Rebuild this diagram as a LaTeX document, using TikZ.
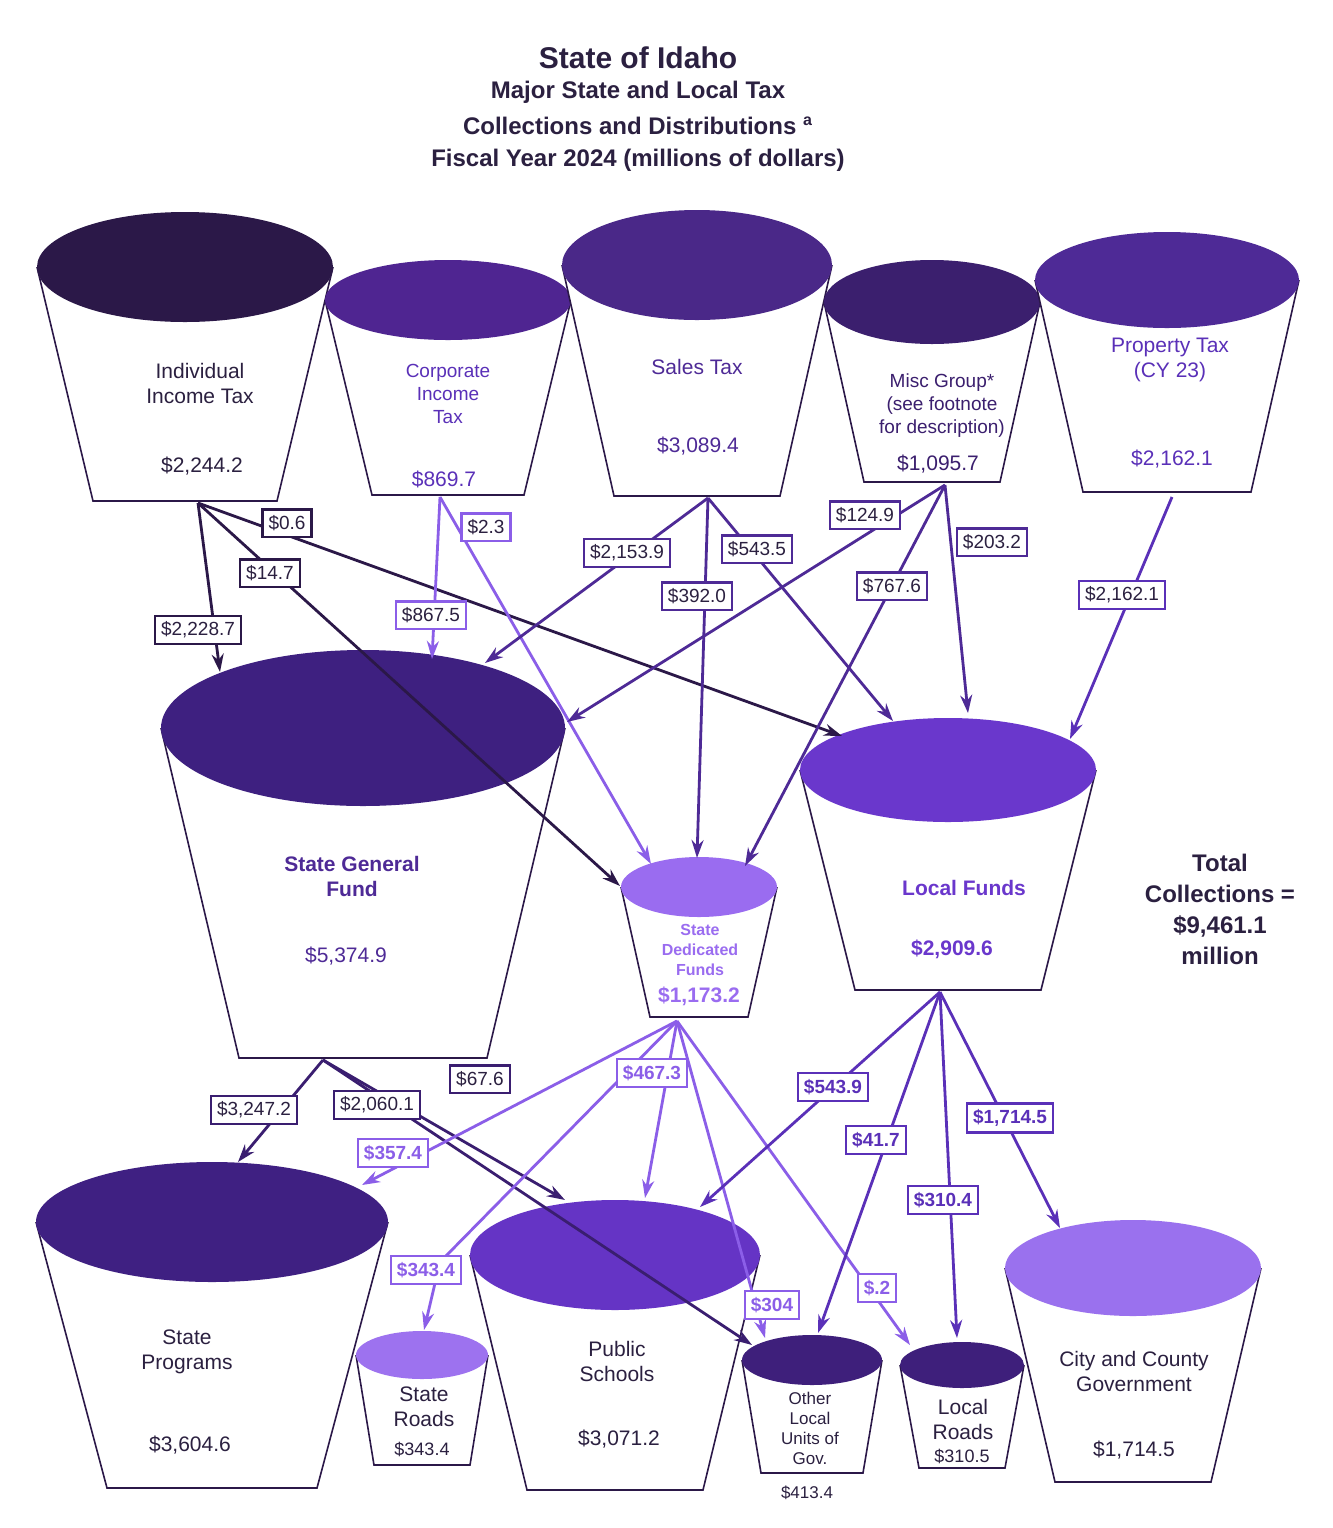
\documentclass[tikz,border=0pt]{standalone}
\usepackage{fontspec}
\setmainfont{Liberation Sans}
\usetikzlibrary{arrows.meta}
\definecolor{cdark}{HTML}{2B1848}
\definecolor{cpur}{HTML}{4E2A96}
\definecolor{cmid}{HTML}{5A30B8}
\definecolor{clight}{HTML}{8B5EE8}
\definecolor{ctext}{HTML}{2B2040}
\definecolor{cA}{HTML}{4F2591}
\definecolor{cB}{HTML}{4A2888}
\definecolor{cC}{HTML}{3B1F6E}
\definecolor{cE}{HTML}{3E2080}
\definecolor{cF}{HTML}{9A6CF0}
\definecolor{cG}{HTML}{6A37CC}
\definecolor{cH}{HTML}{3F2082}
\definecolor{cI}{HTML}{9D72EF}
\definecolor{cJ}{HTML}{6534C5}
\definecolor{cK}{HTML}{3E1F7B}
\definecolor{cL}{HTML}{9A71EE}
\definecolor{cM}{HTML}{3A1E70}
\newcommand\bucket[9]{% name cx cy rx ry by bhw color label
 \fill[white] ({#2-#4},#3) -- ({#2-#7},#6) -- ({#2+#7},#6) -- ({#2+#4},#3) -- cycle;
 \draw[cdark,line width=0.8pt] ({#2-#4},#3) -- ({#2-#7},#6) -- ({#2+#7},#6) -- ({#2+#4},#3);
 \fill[#8] (#2,#3) ellipse [x radius=#4, y radius=#5];
 \coordinate (#1) at (#2,#3);
 \coordinate (#1-b) at (#2,#6);}
\tikzset{
 arr/.style={-{Stealth[length=9pt,width=6pt]},line width=1.4pt},
 lab/.style={draw,fill=white,line width=1.2pt,inner sep=3pt,font=\fontsize{9.5}{11}\selectfont,text=ctext},
 blab/.style={lab,font=\fontsize{9.5}{11}\selectfont\bfseries},
 btxt/.style={align=center,font=\fontsize{10.5}{12.5}\selectfont,text=ctext}
}
\begin{document}
\begin{tikzpicture}[x=0.5pt,y=-0.5pt]
\useasboundingbox (0,0) rectangle (1333,1528);
\fill[white] (0,0) rectangle (1333,1528);
% titles
\node[font=\fontsize{15}{17}\selectfont\bfseries,text=ctext] (t1) at (638,58) {State of Idaho};
\node[font=\fontsize{12}{14}\selectfont\bfseries,text=ctext] (t2) at (638,92) {Major State and Local Tax};
\node[font=\fontsize{12}{14}\selectfont\bfseries,text=ctext] (t3) at (638,126) {Collections and Distributions \textsuperscript{a}};
\node[font=\fontsize{12}{14}\selectfont\bfseries,text=ctext] (t4) at (638,160) {Fiscal Year 2024 (millions of dollars)};
% buckets
\bucket{inc}{185}{267}{148}{55}{501}{92}{cdark}{}
\bucket{cor}{448}{300}{123}{40}{495}{76}{cA}{}
\bucket{sal}{697}{265}{135}{55}{496}{83}{cB}{}
\bucket{mis}{932}{302}{108}{42}{482}{68}{cC}{}
\bucket{pro}{1167}{280}{132}{48}{492}{84}{cpur}{}
\bucket{sgf}{363}{728}{202}{78}{1058}{124}{cE}{}
\bucket{sdf}{699}{887}{78}{30}{1017}{49}{cF}{}
\bucket{loc}{948}{770}{148}{52}{990}{93}{cG}{}
\bucket{spr}{212}{1222}{176}{60}{1488}{105}{cH}{}
\bucket{sro}{422}{1355}{66}{24}{1465}{48}{cI}{}
\bucket{pub}{615}{1255}{145}{55}{1490}{88}{cJ}{}
\bucket{olu}{812}{1360}{70}{25}{1473}{51}{cK}{}
\bucket{lro}{962}{1365}{62}{23}{1468}{43}{cK}{}
\bucket{cit}{1133}{1268}{128}{48}{1482}{78}{cL}{}
% bucket texts
\node[btxt] (x1) at (200,383) {Individual\\Income Tax};
\node[btxt] (x1v) at (202,466) {\$2,244.2};
\node[btxt,text=cmid,font=\fontsize{9.5}{11.5}\selectfont] (x2) at (448,394) {Corporate\\Income\\Tax};
\node[btxt,text=cmid] (x2v) at (444,479) {\$869.7};
\node[btxt,text=cpur] (x3) at (697,367) {Sales Tax};
\node[btxt,text=cpur] (x3v) at (698,446) {\$3,089.4};
\node[btxt,text=cC,font=\fontsize{9.5}{11.5}\selectfont] (x4) at (942,406) {Misc Group*\\(see footnote\\for description)};
\node[btxt,text=cC] (x4v) at (938,464) {\$1,095.7};
\node[btxt,text=cmid] (x5) at (1170,360) {Property Tax\\(CY 23)};
\node[btxt,text=cmid] (x5v) at (1172,459) {\$2,162.1};
\node[btxt,text=cpur,font=\fontsize{10.5}{12.5}\selectfont\bfseries] (x6) at (352,876) {State General\\Fund};
\node[btxt,text=cpur] (x6v) at (346,956) {\$5,374.9};
\node[btxt,text=cF,font=\fontsize{8}{10}\selectfont\bfseries] (x7) at (700,950) {State\\Dedicated\\Funds};
\node[btxt,text=cF,font=\fontsize{10.5}{12}\selectfont\bfseries] (x7v) at (699,996) {\$1,173.2};
\node[btxt,text=cG,font=\fontsize{10.5}{12}\selectfont\bfseries] (x8) at (964,888) {Local Funds};
\node[btxt,text=cG,font=\fontsize{10.5}{12}\selectfont\bfseries] (x8v) at (952,949) {\$2,909.6};
\node[btxt,font=\fontsize{12}{15.5}\selectfont\bfseries] (tot) at (1220,909) {Total\\Collections =\\\$9,461.1\\million};
\node[btxt] (x9) at (187,1352) {State\\Programs};
\node[btxt] (x9v) at (190,1445) {\$3,604.6};
\node[btxt] (x10) at (424,1407) {State\\Roads};
\node[btxt,font=\fontsize{9}{11}\selectfont] (x10v) at (422,1449) {\$343.4};
\node[btxt] (x11) at (617,1361) {Public\\Schools};
\node[btxt] (x11v) at (619,1439) {\$3,071.2};
\node[btxt,font=\fontsize{8.5}{10}\selectfont] (x12) at (810,1428) {Other\\Local\\Units of\\Gov.};
\node[btxt,font=\fontsize{8.5}{10}\selectfont] (x12v) at (807,1493) {\$413.4};
\node[btxt] (x13) at (963,1419) {Local\\Roads};
\node[btxt,font=\fontsize{9}{11}\selectfont] (x13v) at (962,1456) {\$310.5};
\node[btxt] (x14) at (1134,1371) {City and County\\Government};
\node[btxt] (x14v) at (1134,1450) {\$1,714.5};
% target coordinates
\coordinate (sgfA) at (220,672); \coordinate (sgfB) at (432,659); \coordinate (sgfC) at (485,663); \coordinate (sgfD) at (567,722);
\coordinate (sdfA) at (620,886); \coordinate (sdfB) at (651,864); \coordinate (sdfC) at (697,858); \coordinate (sdfD) at (745,866);
\coordinate (locA) at (842,736); \coordinate (locB) at (893,721); \coordinate (locC) at (968,713); \coordinate (locD) at (1070,739);
\coordinate (inc-s) at (198,503); \coordinate (cor-s) at (440,497); \coordinate (sal-s) at (708,498);
\coordinate (mis-s) at (945,485); \coordinate (pro-s) at (1172,497);
\coordinate (sgf-s) at (323,1060); \coordinate (sdf-s) at (677,1021); \coordinate (loc-s) at (940,992);
\coordinate (sprA) at (238,1162); \coordinate (sprB) at (362,1185);
\coordinate (pubA) at (565,1200); \coordinate (pubB) at (645,1198); \coordinate (pubC) at (700,1207);
\coordinate (oluA) at (752,1345); \coordinate (oluB) at (765,1338); \coordinate (oluC) at (818,1333);
\coordinate (lroA) at (910,1345); \coordinate (lroB) at (957,1338);
\coordinate (sroA) at (424,1330); \coordinate (citA) at (1060,1228);
\coordinate (w1) at (440,1262);
% arrows
\draw[arr,cdark] (inc-s) -- (sgfA);
\draw[arr,cdark] (inc-s) -- (sdfA);
\draw[arr,cdark] (inc-s) -- (locA);
\draw[arr,clight] (cor-s) -- (sgfB);
\draw[arr,clight] (cor-s) -- (sdfB);
\draw[arr,cpur] (sal-s) -- (sgfC);
\draw[arr,cpur] (sal-s) -- (sdfC);
\draw[arr,cpur] (sal-s) -- (locB);
\draw[arr,cpur] (mis-s) -- (sgfD);
\draw[arr,cpur] (mis-s) -- (sdfD);
\draw[arr,cpur] (mis-s) -- (locC);
\draw[arr,cmid] (pro-s) -- (locD);
\draw[arr,cM] (sgf-s) -- (sprA);
\draw[arr,cM] (sgf-s) -- (pubA);
\draw[arr,cM] (sgf-s) -- (oluA);
\draw[arr,clight] (sdf-s) -- (sprB);
\draw[arr,clight] (sdf-s) -- (w1) -- (sroA);
\draw[arr,clight] (sdf-s) -- (pubB);
\draw[arr,clight] (sdf-s) -- (oluB);
\draw[arr,clight] (sdf-s) -- (lroA);
\draw[arr,cmid] (loc-s) -- (pubC);
\draw[arr,cmid] (loc-s) -- (oluC);
\draw[arr,cmid] (loc-s) -- (lroB);
\draw[arr,cmid] (loc-s) -- (citA);
% labels
\node[lab,draw=cdark] (l1) at (198,630) {\$2,228.7};
\node[lab,draw=cdark] (l2) at (270,573) {\$14.7};
\node[lab,draw=cdark] (l3) at (287,523) {\$0.6};
\node[lab,draw=clight] (l4) at (431,615) {\$867.5};
\node[lab,draw=clight] (l5) at (486,527) {\$2.3};
\node[lab,draw=cpur] (l6) at (627,553) {\$2,153.9};
\node[lab,draw=cpur] (l7) at (697,596) {\$392.0};
\node[lab,draw=cpur] (l8) at (757,549) {\$543.5};
\node[lab,draw=cpur] (l9) at (865,515) {\$124.9};
\node[lab,draw=cpur] (l10) at (892,586) {\$767.6};
\node[lab,draw=cpur] (l11) at (992,542) {\$203.2};
\node[lab,draw=cmid] (l12) at (1122,595) {\$2,162.1};
\node[lab,draw=cM] (l13) at (254,1110) {\$3,247.2};
\node[lab,draw=cM] (l14) at (377,1105) {\$2,060.1};
\node[lab,draw=cM] (l15) at (480,1079) {\$67.6};
\node[blab,draw=clight,text=clight] (l16) at (393,1153) {\$357.4};
\node[blab,draw=clight,text=clight] (l17) at (426,1270) {\$343.4};
\node[blab,draw=clight,text=clight] (l18) at (652,1073) {\$467.3};
\node[blab,draw=clight,text=clight] (l19) at (772,1305) {\$304};
\node[blab,draw=clight,text=clight] (l20) at (877,1288) {\$.2};
\node[blab,draw=cmid,text=cmid] (l21) at (833,1087) {\$543.9};
\node[blab,draw=cmid,text=cmid] (l22) at (876,1140) {\$41.7};
\node[blab,draw=cmid,text=cmid] (l23) at (943,1200) {\$310.4};
\node[blab,draw=cmid,text=cmid] (l24) at (1010,1118) {\$1,714.5};
\end{tikzpicture}
\end{document}
